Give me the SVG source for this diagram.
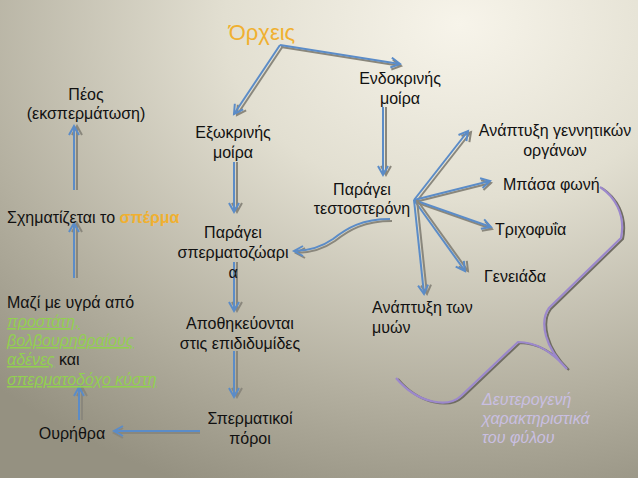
<svg xmlns="http://www.w3.org/2000/svg" xmlns:xlink="http://www.w3.org/1999/xlink" width="638" height="478" viewBox="0 0 638 478">
<defs>
<radialGradient id="bg" cx="0.72" cy="0.05" r="1.05" gradientUnits="objectBoundingBox">
<stop offset="0" stop-color="#f7f4ea"/>
<stop offset="0.35" stop-color="#e2dfd1"/>
<stop offset="0.75" stop-color="#b3af9f"/>
<stop offset="1" stop-color="#959181"/>
</radialGradient>
<marker id="ah" markerUnits="userSpaceOnUse" markerWidth="16" markerHeight="16" refX="10" refY="6" orient="auto">
<path d="M1,1 L10,6 L1,11" fill="none" stroke="#5b8cc8" stroke-width="2"/>
</marker>
<marker id="ahs" markerUnits="userSpaceOnUse" markerWidth="16" markerHeight="16" refX="10" refY="6" orient="auto">
<path d="M1,1 L10,6 L1,11" fill="none" stroke="#8a877c" stroke-width="2"/>
</marker>
<path id="p1" d="M280,45 L234,114"/>
<path id="p2" d="M280,45 L400,64"/>
<path id="p3" d="M234,162 L234,212"/>
<path id="p4" d="M234,262 L234,311"/>
<path id="p5" d="M234,351 L234,397"/>
<path id="p6" d="M200,431 L114,431"/>
<path id="p7" d="M79,420 L79,387"/>
<path id="p8" d="M74,278 L74,223"/>
<path id="p9" d="M74,190 L74,126"/>
<path id="p10" d="M383,107 L383,175"/>
<path id="p11" d="M390,219 C362,219 347,228 333,239 C320,248 306,251 294,251"/>
<path id="p12" d="M414,200 L468,131"/>
<path id="p13" d="M414,200 L490,181"/>
<path id="p14" d="M414,200 L491,227"/>
<path id="p15" d="M414,200 L465,271"/>
<path id="p16" d="M414,200 L424,294"/>
<path id="pb" d="M600,187 C614,196 626,214 621,238 L549,308 C539,322 545,348 567,369 C555,355 538,342 518,342 L461,396 C448,408 418,404 396,378"/>
</defs>
<style>
text{font-family:"Liberation Sans",Arial,sans-serif;font-size:16px;fill:#111;}
.m{text-anchor:middle;}
.g{fill:#92d050;font-style:italic;text-decoration:underline;}
.y{fill:#f0b030;}
.v{fill:#c9bfe2;font-style:italic;font-size:16px;}
.c{fill:none;stroke:#5b8cc8;stroke-width:2;marker-end:url(#ah);}
.s{fill:none;stroke:#8a877c;stroke-width:2;marker-end:url(#ahs);}
.bp{fill:none;stroke:#9c88cc;stroke-width:2.2;}
.bs{fill:none;stroke:#6f6c62;stroke-width:2;}
</style>
<rect width="638" height="478" fill="url(#bg)"/>
<g id="connectors">
<use xlink:href="#p1" class="s" transform="translate(3,1)"/><use xlink:href="#p1" class="c"/>
<use xlink:href="#p2" class="s" transform="translate(1,2)"/><use xlink:href="#p2" class="c"/>
<use xlink:href="#p3" class="s" transform="translate(3,0)"/><use xlink:href="#p3" class="c"/>
<use xlink:href="#p4" class="s" transform="translate(3,0)"/><use xlink:href="#p4" class="c"/>
<use xlink:href="#p5" class="s" transform="translate(3,0)"/><use xlink:href="#p5" class="c"/>
<use xlink:href="#p6" class="s" transform="translate(0,2)"/><use xlink:href="#p6" class="c"/>
<use xlink:href="#p7" class="s" transform="translate(3,0)"/><use xlink:href="#p7" class="c"/>
<use xlink:href="#p8" class="s" transform="translate(3,0)"/><use xlink:href="#p8" class="c"/>
<use xlink:href="#p9" class="s" transform="translate(3,0)"/><use xlink:href="#p9" class="c"/>
<use xlink:href="#p10" class="s" transform="translate(3,0)"/><use xlink:href="#p10" class="c"/>
<use xlink:href="#p11" class="s" transform="translate(2,2)"/><use xlink:href="#p11" class="c"/>
<use xlink:href="#p12" class="s" transform="translate(3,1)"/><use xlink:href="#p12" class="c"/>
<use xlink:href="#p13" class="s" transform="translate(1,2)"/><use xlink:href="#p13" class="c"/>
<use xlink:href="#p14" class="s" transform="translate(1,2)"/><use xlink:href="#p14" class="c"/>
<use xlink:href="#p15" class="s" transform="translate(3,0)"/><use xlink:href="#p15" class="c"/>
<use xlink:href="#p16" class="s" transform="translate(3,0)"/><use xlink:href="#p16" class="c"/>
<use xlink:href="#pb" class="bs" transform="translate(2,1)"/><use xlink:href="#pb" class="bp"/>
</g>
<g id="orchis"><text x="262" y="40" class="m y" style="font-size:22px">Όρχεις</text></g>
<g id="endokrinis"><text x="400" y="84" class="m">Ενδοκρινής</text><text x="400" y="104" class="m">μοίρα</text></g>
<g id="exokrinis"><text x="233" y="138" class="m">Εξωκρινής</text><text x="233" y="158" class="m">μοίρα</text></g>
<g id="paragei-sperm"><text x="233" y="238" class="m">Παράγει</text><text x="233" y="258" class="m">σπερματοζώαρι</text><text x="233" y="278" class="m">α</text></g>
<g id="apothikevontai"><text x="240" y="329" class="m">Αποθηκεύονται</text><text x="240" y="349" class="m">στις επιδιδυμίδες</text></g>
<g id="spermatikoi"><text x="250" y="424" class="m">Σπερματικοί</text><text x="250" y="444" class="m">πόροι</text></g>
<g id="ourithra"><text x="72" y="439" class="m">Ουρήθρα</text></g>
<g id="mazi"><text x="7" y="308">Μαζί με υγρά από</text><text x="7" y="327" class="g">προστάτη,</text><text x="7" y="346" class="g">βολβουρηθραίους</text><text x="7" y="365"><tspan class="g">αδένες</tspan> και</text><text x="7" y="385" class="g">σπερματοδόχο κύστη</text></g>
<g id="schimatizetai"><text x="7" y="223">Σχηματίζεται το <tspan class="y" style="font-weight:bold">σπέρμα</tspan></text></g>
<g id="peos"><text x="86" y="100" class="m">Πέος</text><text x="86" y="119" class="m">(εκσπερμάτωση)</text></g>
<g id="testosteroni"><text x="362" y="195" class="m">Παράγει</text><text x="362" y="214" class="m">τεστοστερόνη</text></g>
<g id="gennitikon"><text x="555" y="136" class="m">Ανάπτυξη γεννητικών</text><text x="555" y="156" class="m">οργάνων</text></g>
<g id="fonh"><text x="503" y="190">Μπάσα φωνή</text></g>
<g id="trichofyia"><text x="495" y="235">Τριχοφυΐα</text></g>
<g id="geneiada"><text x="484" y="282">Γενειάδα</text></g>
<g id="myon"><text x="372" y="313">Ανάπτυξη των</text><text x="372" y="333">μυών</text></g>
<g id="deuterogeni"><text x="482" y="405" class="v">Δευτερογενή</text><text x="482" y="424" class="v">χαρακτηριστικά</text><text x="482" y="443" class="v">του φύλου</text></g>
</svg>
